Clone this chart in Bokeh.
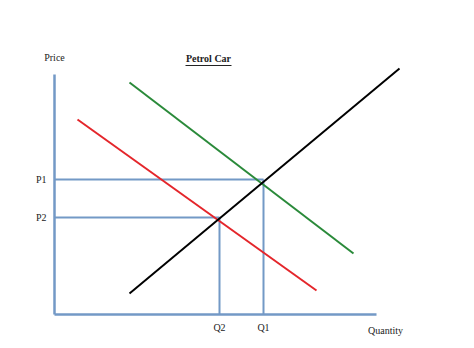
from bokeh.plotting import figure
from bokeh.models import Range1d
from bokeh.core.properties import value
from bokeh.embed import file_html
from bokeh.resources import INLINE

# Data (economic diagram units; origin at axes corner)
axis_x_len = 322
axis_y_len = 240
green_x = [75, 299]
green_y = [232, 61]
red_x = [23, 262]
red_y = [195, 24]
black_x = [75, 345]
black_y = [21, 246]
P1, P2 = 135, 97
Q1, Q2 = 209, 165
price_labels = ["P1", "P2"]
price_values = [P1, P2]
qty_labels = ["Q2", "Q1"]
qty_values = [Q2, Q1]

FONT = value("Liberation Serif")
AXC = "#7399c6"

p = figure(width=474, height=348, x_range=Range1d(-54, 420), y_range=Range1d(-34, 314),
           output_backend="svg", toolbar_location=None, min_border=0)
p.axis.visible = False
p.grid.visible = False
p.outline_line_color = None
p.background_fill_color = "white"

# guide lines
p.line([0, Q1], [P1, P1], line_color=AXC, line_width=2)
p.line([0, Q2], [P2, P2], line_color=AXC, line_width=2)
p.line([Q1, Q1], [0, P1], line_color=AXC, line_width=2)
p.line([Q2, Q2], [0, P2], line_color=AXC, line_width=2)
# axes
p.line([0, 0], [0, axis_y_len], line_color=AXC, line_width=2.5)
p.line([0, axis_x_len], [0, 0], line_color=AXC, line_width=2.5)

# curves
p.line(green_x, green_y, line_color="#2a8a3a", line_width=2)
p.line(red_x, red_y, line_color="#e4262b", line_width=2)
p.line(black_x, black_y, line_color="black", line_width=2)

# texts
p.text([0], [257], text=["Price"], text_font=FONT, text_font_size="10px",
       text_align="center", text_baseline="middle", text_color="#222222")
p.text([154], [256], text=["Petrol Car"], text_font=FONT, text_font_size="10px",
       text_font_style="bold", text_align="center", text_baseline="middle", text_color="#222222")
p.line([131, 177], [249, 249], line_color="#222222", line_width=1)
p.text([-8] * 2, price_values, text=price_labels, text_font=FONT, text_font_size="10px",
       text_align="right", text_baseline="middle", text_color="#222222")
p.text(qty_values, [-13] * 2, text=qty_labels, text_font=FONT, text_font_size="10px",
       text_align="center", text_baseline="middle", text_color="#222222")
p.text([331], [-16], text=["Quantity"], text_font=FONT, text_font_size="10px",
       text_align="center", text_baseline="middle", text_color="#222222")

open("out.html", "w").write(file_html(p, INLINE))
